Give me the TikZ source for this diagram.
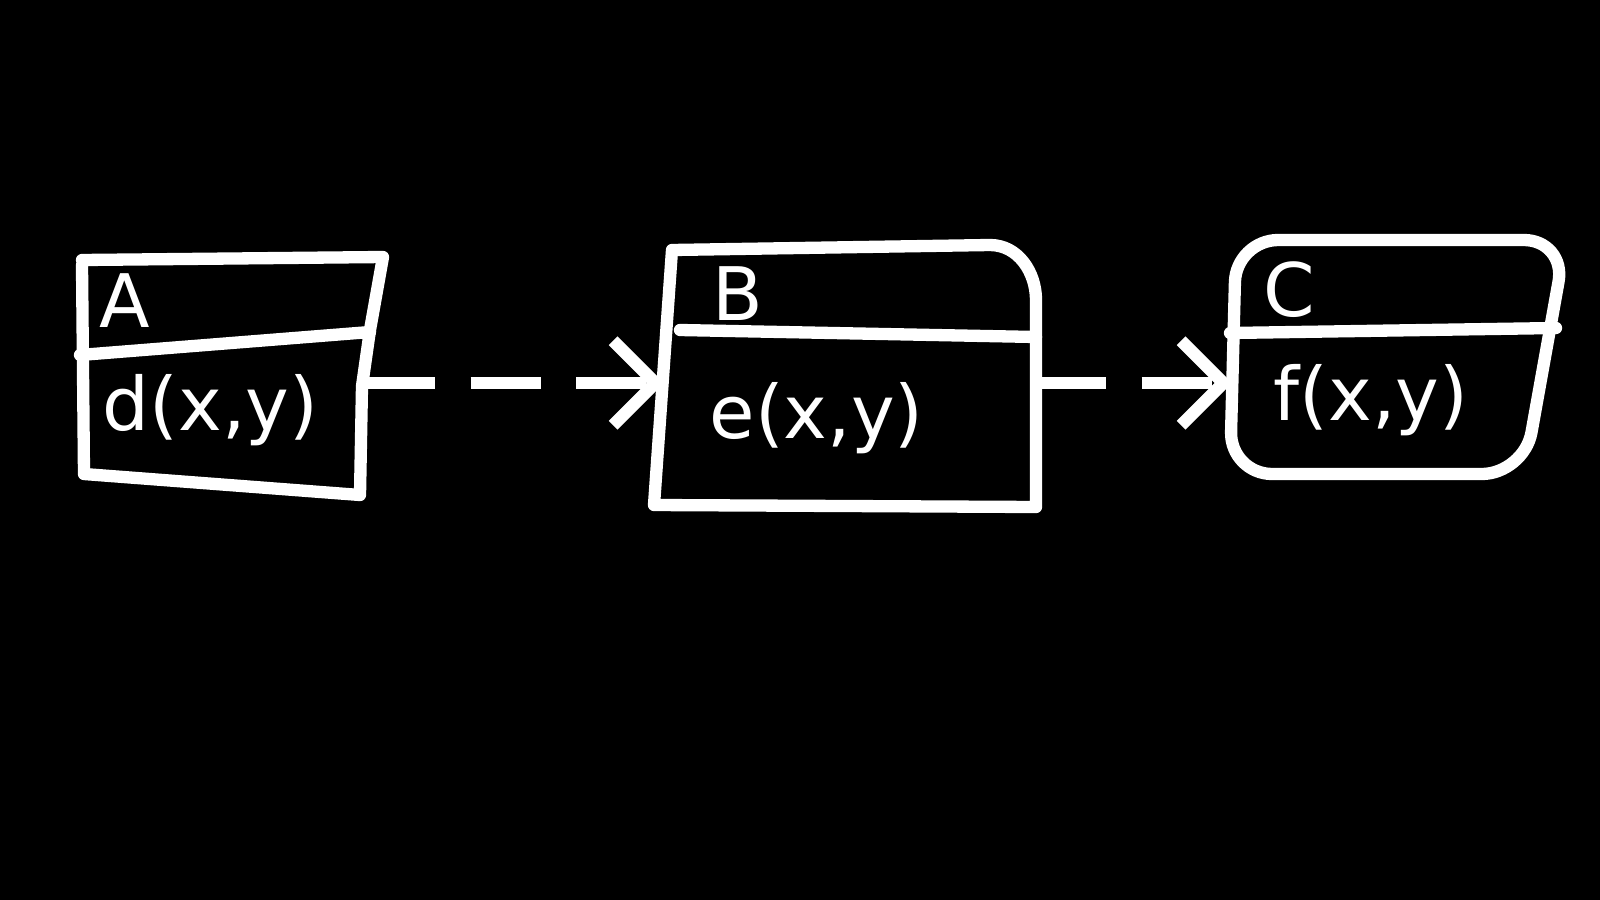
\documentclass[tikz,border=0pt]{standalone}
\usepackage{fontspec}
\setmainfont{DejaVu Sans}
\usetikzlibrary{arrows.meta}
\begin{document}
\begin{tikzpicture}[x=0.01cm,y=-0.01cm,
  lbl/.style={text=white,anchor=west,inner sep=0pt,font=\fontsize{21}{26}\selectfont},
  edge/.style={white,line width=3.5pt,line join=round,line cap=round},
  conn/.style={draw=white,line width=3.5pt,dash pattern=on 20pt off 10pt,-{Straight Barb[length=12pt,width=24pt,line width=3.5pt]}}]
\fill[black] (0,0) rectangle (1600,900);
\useasboundingbox (0,0) rectangle (1600,900);
% Box A
\draw[edge] (82,265) -- (84,474) -- (360,495) -- (362,386) -- (370,330) -- (383,257) -- (82,260);
\draw[edge] (80,355) -- (370,332);
\coordinate (Ar) at (365,383);
\node[lbl] (At) at (99,301) {A};
\node[lbl] (Af) at (102,410) {d(x,y)};
% Box B
\draw[edge] (672,250) -- (654,505) -- (1036,507) -- (1036,340) -- (1036,300) to[out=90,in=0] (990,245) -- (672,250);
\coordinate (Bl) at (664,383);
\coordinate (Br) at (1036,383);
\draw[edge] (680,330) -- (1036,337);
\node[lbl] (Bt) at (712,294) {B};
\node[lbl] (Bf) at (709,418) {e(x,y)};
% Box C
\draw[edge,rounded corners=12pt] (1236,240) -- (1230,474) -- (1524,474) -- (1566,240) -- cycle;
\coordinate (Cl) at (1232,383);
\draw[edge] (1230,333) -- (1556,328);
\node[lbl] (Ct) at (1263,290) {C};
\node[lbl] (Cf) at (1273,400) {f(x,y)};
% connectors
\draw[conn] (Ar) -- (Bl);
\draw[conn] (Br) -- (Cl);
\end{tikzpicture}
\end{document}
